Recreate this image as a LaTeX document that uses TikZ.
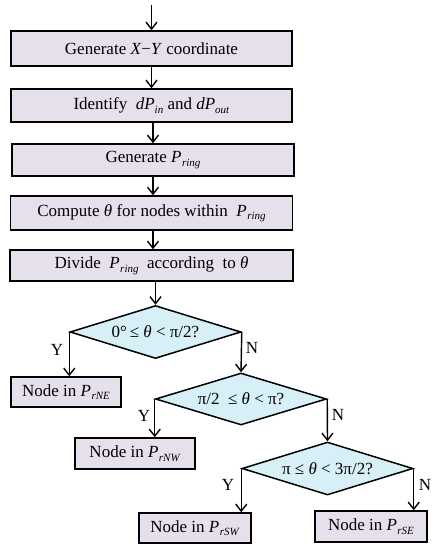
\documentclass[tikz,border=0pt]{standalone}
\usepackage{fontspec}
\setmainfont{Liberation Serif}
\usetikzlibrary{arrows.meta,shapes.geometric}
\definecolor{boxfill}{HTML}{E6E0EC}
\definecolor{dfill}{HTML}{D7EFF6}
\newcommand{\Psb}[1]{\textit{P}\kern0.5pt\raisebox{-0.45ex}{\fontsize{11}{11}\selectfont\textit{#1}}}
\begin{document}
\begin{tikzpicture}[x=1pt,y=-1pt,
  font=\fontsize{17}{19}\selectfont,
  every node/.style={inner sep=0pt},
  bigbox/.style={draw,line width=1.5pt,fill=boxfill,minimum height=33pt},
  smallbox/.style={draw,line width=1.5pt,fill=boxfill,minimum width=112pt,minimum height=30pt},
  decision/.style={draw,line width=1.5pt,fill=dfill,diamond,aspect=3.2,minimum width=171pt,minimum height=53pt},
  flow/.style={line width=1.4pt,-{Straight Barb[length=7pt,width=11pt,line width=1.4pt]}},
  lbl/.style={font=\fontsize{17}{19}\selectfont}]
\useasboundingbox (0,0) rectangle (438,550);
\coordinate (start) at (151.5,5);
\node[bigbox,minimum width=281pt,minimum height=35pt] (b1) at (151.5,48.5) {Generate \textit{X}−\textit{Y} coordinate};
\node[bigbox,minimum width=281pt] (b2) at (151.5,105.5) {Identify \ \textit{dP}\raisebox{-0.45ex}{\fontsize{11}{11}\selectfont\textit{in}} and \textit{dP}\raisebox{-0.45ex}{\fontsize{11}{11}\selectfont\textit{out}}};
\node[bigbox,minimum width=282pt,minimum height=32pt] (b3) at (153,160) {Generate \Psb{ring}};
\node[bigbox,minimum width=282pt,minimum height=34pt] (b4) at (151.5,213) {Compute \textit{θ} for nodes within \ \Psb{ring}};
\node[bigbox,minimum width=283pt,minimum height=31pt] (b5) at (151.5,265.5) {Divide \ \Psb{ring} \ according \ to \textit{θ}};
\node[decision] (d1) at (155.5,332) {0°\,≤ \textit{θ} < π/2?};
\node[decision,minimum height=52pt] (d2) at (241,399) {π/2 \ ≤ \textit{θ} < π?};
\node[decision] (d3) at (327.5,468.5) {π ≤ \textit{θ} < 3π/2?};
\node[smallbox,minimum width=110pt] (ne) at (66,392) {Node in \Psb{rNE}};
\node[smallbox,minimum width=120pt,minimum height=31pt] (nw) at (135,453.5) {Node in \Psb{rNW}};
\node[smallbox] (sw) at (195,528) {Node in \Psb{rSW}};
\node[smallbox,minimum height=31pt] (se) at (371,526.5) {Node in \Psb{rSE}};
\draw[flow] (start) -- (b1.north);
\draw[flow] (b1) -- (b2);
\draw[flow] (b2.south -| b3.north) -- (b3.north);
\draw[flow] (b3) -- (b4.north -| b3.south);
\draw[flow] (b4.south -| b3.south) -- (b5.north -| b3.south);
\draw[flow] (b5.south -| d1.north) -- (d1.north);
\draw[flow] (d1.west) -- (d1.west |- ne.north);
\draw[flow] (d1.east) -- (d2.north);
\draw[flow] (d2.west) -- (d2.west |- nw.north);
\draw[flow] (d2.east) -- (d3.north);
\draw[flow] (d3.west) -- (d3.west |- sw.north);
\draw[flow] (d3.east) -- (d3.east |- se.north);
\node[lbl] (y1) at (57,350) {Y};
\node[lbl] (n1) at (252,348) {N};
\node[lbl] (y2) at (144,416) {Y};
\node[lbl] (n2) at (338,415) {N};
\node[lbl] (y3) at (228,485) {Y};
\node[lbl] (n3) at (425,485) {N};
\end{tikzpicture}
\end{document}
